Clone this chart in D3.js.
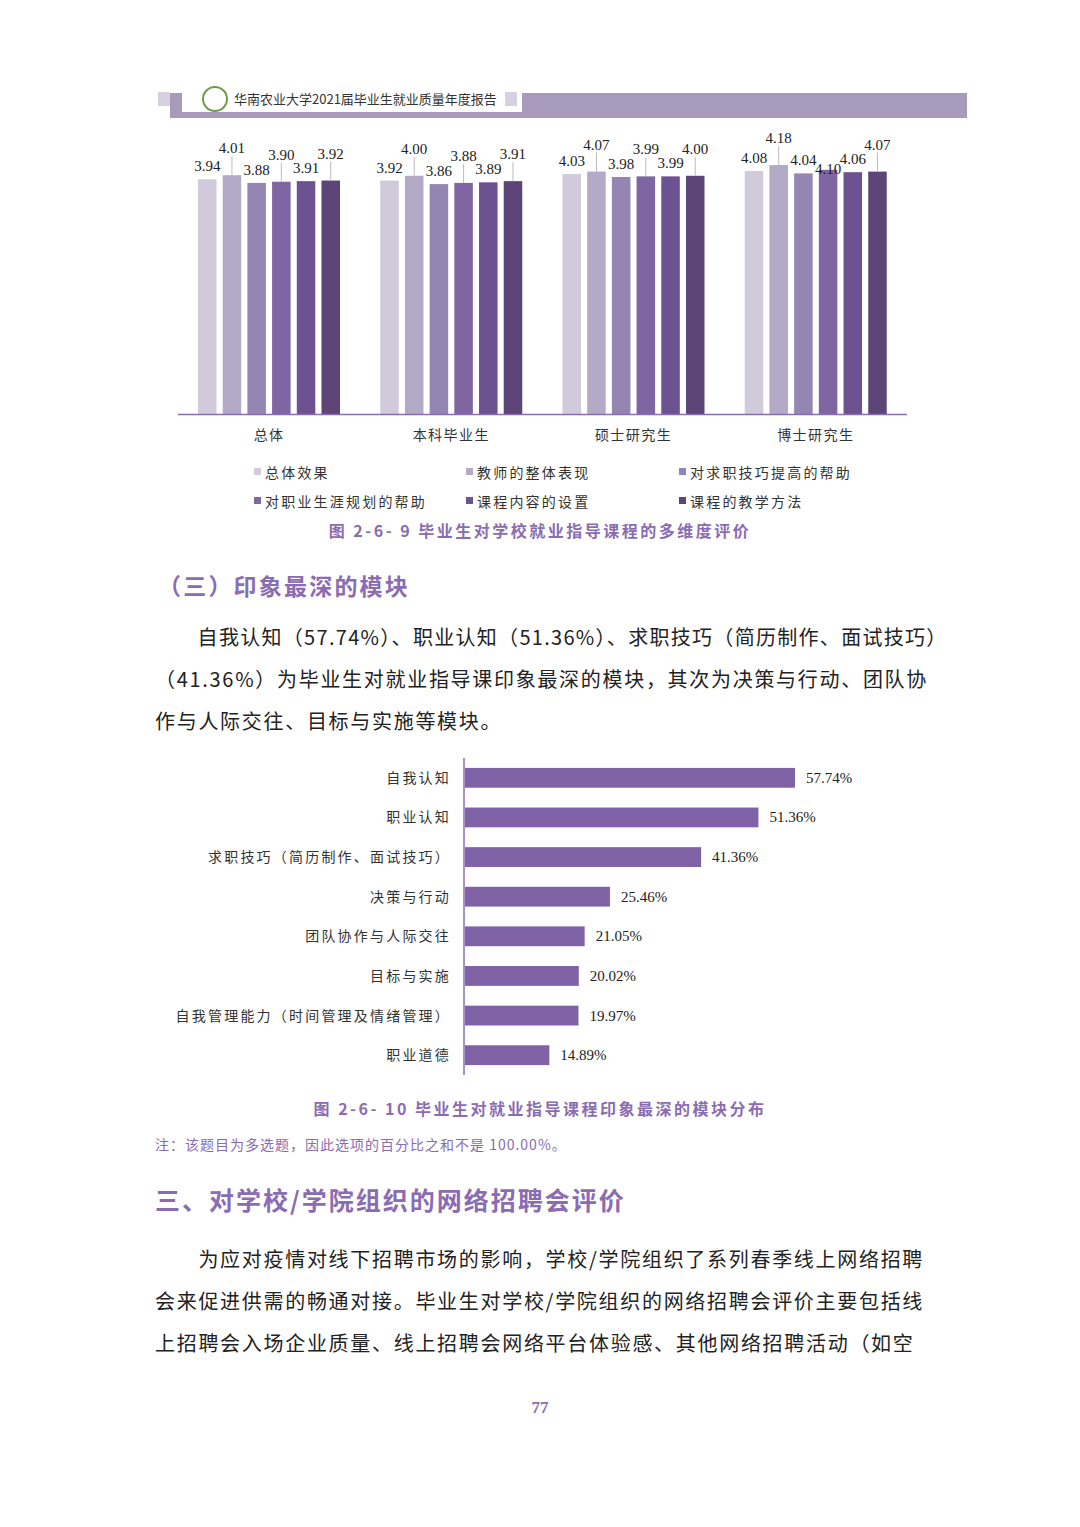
<!DOCTYPE html>
<html><head><meta charset="utf-8">
<script src="https://cdn.jsdelivr.net/npm/d3@7"></script>
<style>
body{margin:0;background:#fff;font-family:"Noto Sans CJK SC",sans-serif;}
</style></head>
<body>
<svg id="page" width="1080" height="1527"></svg>
<script>
// chart 1 data
const groups = ['总体', '本科毕业生', '硕士研究生', '博士研究生'];
const dims = ['总体效果', '教师的整体表现', '对求职技巧提高的帮助', '对职业生涯规划的帮助', '课程内容的设置', '课程的教学方法'];
const scores = [
  [3.94, 4.01, 3.88, 3.90, 3.91, 3.92],
  [3.92, 4.00, 3.86, 3.88, 3.89, 3.91],
  [4.03, 4.07, 3.98, 3.99, 3.99, 4.00],
  [4.08, 4.18, 4.04, 4.10, 4.06, 4.07]
];
// chart 2 data
const modules = ['自我认知', '职业认知', '求职技巧（简历制作、面试技巧）', '决策与行动', '团队协作与人际交往', '目标与实施', '自我管理能力（时间管理及情绪管理）', '职业道德'];
const shares = [57.74, 51.36, 41.36, 25.46, 21.05, 20.02, 19.97, 14.89];

const colors = ['#d0cadb', '#b3aac8', '#9585b2', '#7f66a2', '#6c5290', '#5d4578'];
const purple = '#8a6cb2';
const svg = d3.select('#page');

// header band
svg.append('rect').attr('x', 170).attr('y', 93).attr('width', 797).attr('height', 25).attr('fill', '#a89aba');
svg.append('rect').attr('x', 182).attr('y', 85).attr('width', 340).attr('height', 27).attr('fill', '#fff');
svg.append('rect').attr('x', 158).attr('y', 92).attr('width', 12).attr('height', 14).attr('fill', '#d6d0e2');
svg.append('rect').attr('x', 505).attr('y', 92).attr('width', 12).attr('height', 14).attr('fill', '#d6d0e2');
svg.append('circle').attr('cx', 215).attr('cy', 99).attr('r', 12).attr('fill', '#fff').attr('stroke', '#6f9a4a').attr('stroke-width', 2);
svg.append('text').attr('x', 234).attr('y', 104).attr('font-size', 13).attr('fill', '#333').text('华南农业大学2021届毕业生就业质量年度报告');

// chart 1
const x0 = d3.scaleBand().domain(groups).range([178, 907]);
const x1 = d3.scaleBand().domain(d3.range(6)).range([0, 142]).paddingInner(0.25);
const y = d3.scaleLinear().domain([0, 4.5]).range([414, 146]);
const serif = '"Liberation Serif","DejaVu Serif",serif';
groups.forEach((g, gi) => {
  const gx = x0(g) + 20;
  scores[gi].forEach((v, i) => {
    const bx = gx + x1(i);
    svg.append('rect').attr('x', bx).attr('y', y(v)).attr('width', x1.bandwidth()).attr('height', 414 - y(v)).attr('fill', colors[i]);
    const high = i % 2 === 1 && !(gi === 3 && i === 3);
    let ly = high ? y(v) - 22 : y(v) - 8;
    if (gi === 3 && i === 3) ly = y(v) + 4;
    if (high) svg.append('line').attr('x1', bx + x1.bandwidth() / 2).attr('x2', bx + x1.bandwidth() / 2)
      .attr('y1', ly + 3).attr('y2', y(v)).attr('stroke', '#bbb');
    svg.append('text').attr('x', bx + x1.bandwidth() / 2).attr('y', ly).attr('text-anchor', 'middle')
      .attr('font-family', serif).attr('font-size', 15).attr('fill', '#222').text(v.toFixed(2));
  });
});
svg.append('line').attr('x1', 178).attr('x2', 907).attr('y1', 414.5).attr('y2', 414.5).attr('stroke', '#8a6cb2').attr('stroke-width', 1.5);
groups.forEach(g => svg.append('text').attr('x', x0(g) + x0.bandwidth() / 2).attr('y', 440).attr('text-anchor', 'middle')
  .attr('font-size', 14).attr('letter-spacing', 1.5).attr('fill', '#333').text(g));
dims.forEach((d, i) => {
  const lx = [254, 466, 679][i % 3], ly = 473 + Math.floor(i / 3) * 29;
  svg.append('rect').attr('x', lx).attr('y', ly - 5).attr('width', 7).attr('height', 7).attr('fill', colors[i]);
  svg.append('text').attr('x', lx + 11).attr('y', ly + 5).attr('font-size', 14).attr('letter-spacing', 2.2).attr('fill', '#333').text(d);
});
svg.append('text').attr('x', 540).attr('y', 537).attr('text-anchor', 'middle').attr('font-size', 16).attr('letter-spacing', 2.5).attr('font-weight', 'bold').attr('fill', purple).text('图 2-6- 9  毕业生对学校就业指导课程的多维度评价');

// section text
svg.append('text').attr('x', 158).attr('y', 595).attr('font-size', 23).attr('letter-spacing', 2.2).attr('font-weight', 'bold').attr('fill', purple).text('（三）印象最深的模块');
const para1 = ['　　自我认知（57.74%）、职业认知（51.36%）、求职技巧（简历制作、面试技巧）', '（41.36%）为毕业生对就业指导课印象最深的模块，其次为决策与行动、团队协', '作与人际交往、目标与实施等模块。'];
para1.forEach((t, i) => svg.append('text').attr('x', 155).attr('y', 645 + i * 42).attr('font-size', 20).attr('letter-spacing', i === 0 ? 1.3 : 1.7).attr('fill', '#222').text(t));

// chart 2
const yb = d3.scaleBand().domain(modules).range([758, 1075]).paddingInner(0.5).paddingOuter(0.25);
const xb = d3.scaleLinear().domain([0, 57.74]).range([464, 795]);
svg.append('line').attr('x1', 464).attr('x2', 464).attr('y1', 758).attr('y2', 1075).attr('stroke', purple).attr('stroke-width', 1.5);
modules.forEach((m, i) => {
  svg.append('rect').attr('x', 465).attr('y', yb(m)).attr('width', xb(shares[i]) - 465).attr('height', yb.bandwidth()).attr('fill', '#8062a6');
  svg.append('text').attr('x', xb(shares[i]) + 11).attr('y', yb(m) + yb.bandwidth() / 2 + 5).attr('font-family', serif).attr('font-size', 15).attr('fill', '#222').text(shares[i].toFixed(2) + '%');
  svg.append('text').attr('x', 451).attr('y', yb(m) + yb.bandwidth() / 2 + 5).attr('text-anchor', 'end').attr('font-size', 14).attr('letter-spacing', 2.2).attr('fill', '#333').text(m);
});
svg.append('text').attr('x', 540).attr('y', 1115).attr('text-anchor', 'middle').attr('font-size', 16).attr('letter-spacing', 2.5).attr('font-weight', 'bold').attr('fill', purple).text('图 2-6- 10  毕业生对就业指导课程印象最深的模块分布');
svg.append('text').attr('x', 155).attr('y', 1150).attr('font-size', 14).attr('letter-spacing', 1).attr('fill', purple).text('注：该题目为多选题，因此选项的百分比之和不是 100.00%。');

svg.append('text').attr('x', 155).attr('y', 1210).attr('font-size', 25).attr('letter-spacing', 2).attr('font-weight', 'bold').attr('fill', purple).text('三、对学校/学院组织的网络招聘会评价');
const para2 = ['　　为应对疫情对线下招聘市场的影响，学校/学院组织了系列春季线上网络招聘', '会来促进供需的畅通对接。毕业生对学校/学院组织的网络招聘会评价主要包括线', '上招聘会入场企业质量、线上招聘会网络平台体验感、其他网络招聘活动（如空'];
para2.forEach((t, i) => svg.append('text').attr('x', 155).attr('y', 1267 + i * 42).attr('font-size', 20).attr('letter-spacing', 1.7).attr('fill', '#222').text(t));
svg.append('text').attr('x', 540).attr('y', 1413).attr('text-anchor', 'middle').attr('font-family', serif).attr('font-weight', 'bold').attr('font-size', 17).attr('fill', purple).text('77');
</script>
</body></html>
